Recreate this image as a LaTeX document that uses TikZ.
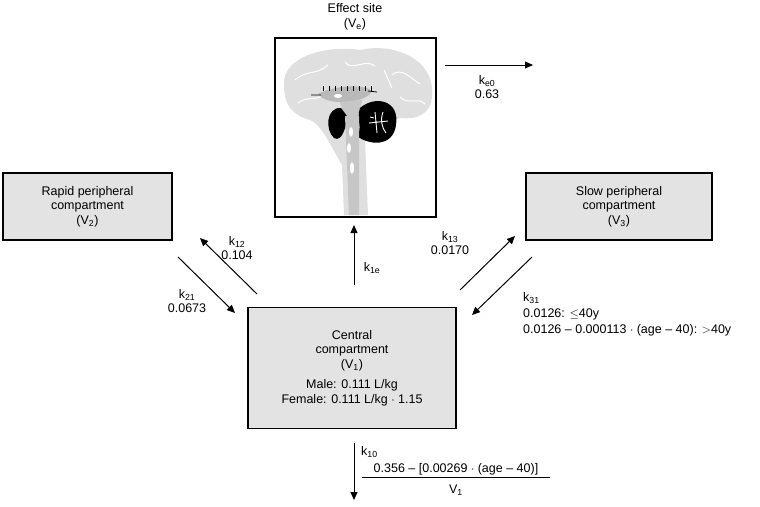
\documentclass[tikz,border=0pt]{standalone}
\usepackage{fontspec}
\setmainfont{Liberation Sans}
\usetikzlibrary{arrows.meta}
\newcommand{\sbs}[1]{\textsubscript{#1}}
\begin{document}
\begin{tikzpicture}[x=1pt,y=-1pt,
  every node/.style={font=\fontsize{12.5}{14.5}\selectfont, align=center, inner sep=0pt},
  comp/.style={draw, line width=1.8pt, fill=gray!22},
  arr/.style={-{Triangle[length=8pt,width=7pt]}, line width=1pt},
  lab/.style={align=center, font=\fontsize{12.5}{14}\selectfont}]
\useasboundingbox (0,0) rectangle (760,506);
% boxes
\node[draw, line width=1.2pt, minimum width=161pt, minimum height=179pt] (eff) at (355.5,127.5) {};
\node[comp, minimum width=169pt, minimum height=67pt] (rap) at (87.5,206.5) {};
\node at (87.5,206.5) {Rapid peripheral\\compartment\\(V\sbs{2})};
\node[comp, minimum width=186pt, minimum height=67pt] (slow) at (619,206.5) {};
\node at (619,206.5) {Slow peripheral\\compartment\\(V\sbs{3})};
\node[comp, minimum width=208pt, minimum height=121pt] (cen) at (352,368) {};
\node at (352,368) {Central\\compartment\\(V\sbs{1})\\[6pt]Male: 0.111 L/kg\\Female: 0.111 L/kg $\cdot$ 1.15};
\node (efft) at (355,17) {Effect site\\(V\sbs{e})};
% brain
\begin{scope}
\fill[gray!25] (284,85) .. controls (282,55) and (330,45) .. (360,50) .. controls (395,42) and (435,60) .. (432,95) .. controls (432,115) and (415,120) .. (400,118) .. controls (385,122) and (372,132) .. (365,140) -- (368,215) -- (344,215) -- (342,165) .. controls (330,145) and (322,125) .. (310,120) .. controls (292,115) and (284,105) .. (284,85) -- cycle;
\draw[white, line width=1pt] (295,80) .. controls (305,70) and (318,75) .. (328,65) (345,62) .. controls (352,72) and (365,58) .. (375,66) (392,75) .. controls (402,66) and (412,80) .. (420,84) (298,103) .. controls (308,95) and (318,102) .. (323,94) (400,97) .. controls (410,106) and (416,96) .. (425,104) (384,70) -- (392,88);
\fill[gray!55] (318,94) .. controls (335,85) and (365,84) .. (372,91) .. controls (368,99) and (355,102) .. (340,102) .. controls (330,102) and (322,99) .. (318,94) -- cycle;
\foreach \i in {0,...,8} \draw[line width=0.8pt] (323+\i*6,91) -- ++(0,-5);
\draw[line width=0.8pt] (311,95) -- (321,95) (368,91) -- (377,92);
\fill[white] (338,96) ellipse (4pt and 2pt);
\fill[gray!45] (340,102) -- (362,100) -- (358,118) -- (345,118) -- cycle;
\fill[black] (341,108) .. controls (326,107) and (325,130) .. (334,138) .. controls (342,143) and (347,125) .. (347,116) -- cycle;
\fill[black] (360,108) .. controls (375,95) and (400,100) .. (396,125) .. controls (393,148) and (368,145) .. (357,136) .. controls (363,128) and (356,120) .. (360,108) -- cycle;
\draw[white, line width=0.9pt] (369,123) -- (388,121) (375,112) -- (377,133) (383,112) .. controls (380,120) and (382,128) .. (386,133) (370,117) -- (374,118);
\fill[gray!45] (345,116) -- (359,116) -- (359,215) -- (349,215) -- cycle;
\fill[white] (351,132) ellipse (2pt and 5pt) (349,148) ellipse (2pt and 5pt) (352,168) ellipse (2pt and 6pt);
\end{scope}
% arrows
\coordinate (ke) at (533,65);
\draw[arr] (445,65) -- (ke);
\node[lab] at (487,87) {k\sbs{e0}\\0.63};
\draw[arr] (354,285) -- (354,225);
\node[lab] at (372,268) {k\sbs{1e}};
\draw[arr] (257,294) -- (200,238);
\node[lab] at (237,248) {k\sbs{12}\\0.104};
\draw[arr] (178,257) -- (235,313);
\node[lab] at (187,301) {k\sbs{21}\\0.0673};
\draw[arr] (460,290) -- (515,236);
\node[lab] at (450,243) {k\sbs{13}\\0.0170};
\draw[arr] (532,257) -- (472,315);
\node[lab, align=left, anchor=north west, font=\fontsize{12.5}{16}\selectfont] at (523,292) {k\sbs{31}\\0.0126: $\le$40y\\0.0126 -- 0.000113 $\cdot$ (age -- 40): $>$40y};
\coordinate (out) at (354,500);
\draw[arr] (354,443) -- (out);
\node[lab, anchor=north west] at (361,446) {k\sbs{10}};
\node at (456,469) {0.356 -- [0.00269 $\cdot$ (age -- 40)]};
\draw[line width=0.8pt] (362,477) -- (550,477);
\node at (456,490) {V\sbs{1}};
\end{tikzpicture}
\end{document}
